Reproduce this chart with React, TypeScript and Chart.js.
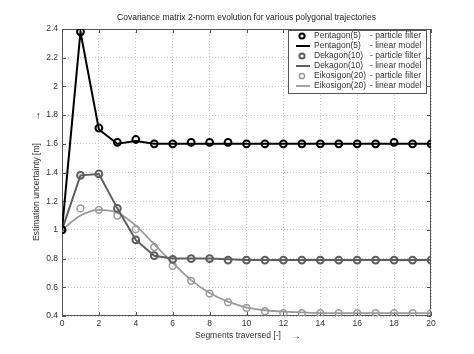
import React, { useEffect, useRef } from "react";
import { Chart, registerables } from "chart.js";

Chart.register(...registerables);

const segments = [0, 1, 2, 3, 4, 5, 6, 7, 8, 9, 10, 11, 12, 13, 14, 15, 16, 17, 18, 19, 20];

const pentagonPF = [1.0, 2.38, 1.71, 1.61, 1.63, 1.6, 1.6, 1.61, 1.61, 1.61, 1.6, 1.6, 1.6, 1.6, 1.6, 1.6, 1.6, 1.6, 1.61, 1.6, 1.6];
const pentagonLM = [1.0, 2.38, 1.7, 1.6, 1.62, 1.6, 1.6, 1.6, 1.6, 1.6, 1.6, 1.6, 1.6, 1.6, 1.6, 1.6, 1.6, 1.6, 1.6, 1.6, 1.6];
const dekagonPF = [1.0, 1.38, 1.39, 1.15, 0.93, 0.82, 0.795, 0.8, 0.8, 0.79, 0.79, 0.79, 0.79, 0.79, 0.79, 0.79, 0.79, 0.79, 0.79, 0.79, 0.79];
const dekagonLM = [1.0, 1.38, 1.39, 1.15, 0.93, 0.82, 0.8, 0.8, 0.8, 0.795, 0.79, 0.79, 0.79, 0.79, 0.79, 0.79, 0.79, 0.79, 0.79, 0.79, 0.79];
const eikosigonPF = [1.0, 1.15, 1.14, 1.1, 1.005, 0.88, 0.75, 0.645, 0.556, 0.496, 0.457, 0.433, 0.42, 0.42, 0.42, 0.42, 0.42, 0.42, 0.42, 0.42, 0.42];
const eikosigonLM = [1.0, 1.1, 1.14, 1.12, 1.03, 0.9, 0.77, 0.65, 0.56, 0.5, 0.46, 0.44, 0.43, 0.425, 0.42, 0.42, 0.42, 0.42, 0.42, 0.42, 0.42];

const xTicks = [0, 2, 4, 6, 8, 10, 12, 14, 16, 18, 20];
const yTicks = [0.4, 0.6, 0.8, 1.0, 1.2, 1.4, 1.6, 1.8, 2.0, 2.2, 2.4];

const titleText = "Covariance matrix 2-norm evolution for various polygonal trajectories";
const xTitle = "Segments traversed [-]";
const yTitle = "Estimation uncertainty [m]";

const legendNames = ["Pentagon(5)", "Pentagon(5)", "Dekagon(10)", "Dekagon(10)", "Eikosigon(20)", "Eikosigon(20)"];
const legendSuffix = ["- particle filter", "- linear model", "- particle filter", "- linear model", "- particle filter", "- linear model"];

const toPts = (ys: number[]) => segments.map((x, i) => ({ x, y: ys[i] }));

const FONT = "'Liberation Sans', Arial, sans-serif";

export default function App() {
  const ref = useRef<HTMLCanvasElement | null>(null);
  useEffect(() => {
    document.body.style.margin = "0";
    const canvas = ref.current!;
    const colors = ["#000000", "#000000", "#5e5e5e", "#5e5e5e", "#9a9a9a", "#9a9a9a"];
    const pf = (label: string, data: number[], color: string, bw: number) => ({
      label,
      data: toPts(data),
      showLine: false,
      borderColor: color,
      backgroundColor: "rgba(0,0,0,0)",
      pointRadius: 3.4,
      pointBorderWidth: bw,
      pointStyle: "circle",
    });
    const lm = (label: string, data: number[], color: string, w: number, tension = 0) => ({
      label,
      data: toPts(data),
      showLine: true,
      borderColor: color,
      borderWidth: w,
      pointRadius: 0,
      tension,
      cubicInterpolationMode: tension > 0 ? "monotone" : "default",
      fill: false,
    });

    const overlay = {
      id: "overlay",
      beforeDatasetsDraw(chart: any) {
        const { ctx, chartArea: a } = chart;
        ctx.save();
        ctx.strokeStyle = "#555";
        ctx.lineWidth = 1;
        ctx.strokeRect(a.left + 0.5, a.top + 0.5, a.right - a.left - 1, a.bottom - a.top - 1);
        const xs = chart.scales.x;
        const ys = chart.scales.y;
        ctx.beginPath();
        xTicks.forEach((t) => {
          const px = Math.round(xs.getPixelForValue(t)) + 0.5;
          ctx.moveTo(px, a.bottom);
          ctx.lineTo(px, a.bottom - 4);
          ctx.moveTo(px, a.top);
          ctx.lineTo(px, a.top + 4);
        });
        yTicks.forEach((t) => {
          const py = Math.round(ys.getPixelForValue(t)) + 0.5;
          ctx.moveTo(a.left, py);
          ctx.lineTo(a.left + 4, py);
          ctx.moveTo(a.right, py);
          ctx.lineTo(a.right - 4, py);
        });
        ctx.stroke();
        ctx.restore();
      },
      afterDraw(chart: any) {
        const { ctx, chartArea: a } = chart;
        ctx.save();
        ctx.fillStyle = "#222";
        ctx.font = `8.5px ${FONT}`;
        ctx.textAlign = "center";
        ctx.textBaseline = "middle";
        ctx.fillText(titleText, (a.left + a.right) / 2, 18);
        // x title
        ctx.fillStyle = "#333";
        ctx.font = `8.5px ${FONT}`;
        ctx.textAlign = "left";
        ctx.fillText(xTitle, 195, 336);
        ctx.font = `10px ${FONT}`;
        ctx.fillText("\u2192", 291, 336);
        // y title
        ctx.font = `8.5px ${FONT}`;
        ctx.save();
        ctx.translate(37, 192);
        ctx.rotate(-Math.PI / 2);
        ctx.textAlign = "center";
        ctx.fillText(yTitle, 0, 0);
        ctx.restore();
        ctx.save();
        ctx.font = `10px ${FONT}`;
        ctx.translate(37, 116);
        ctx.rotate(-Math.PI / 2);
        ctx.textAlign = "center";
        ctx.fillText("\u2192", 0, 0);
        ctx.restore();
        // legend
        const bx = 288, by = 30, bw = 138, bh = 63;
        ctx.fillStyle = "#fff";
        ctx.fillRect(bx, by, bw, bh);
        ctx.strokeStyle = "#555";
        ctx.lineWidth = 1;
        ctx.strokeRect(bx + 0.5, by + 0.5, bw, bh);
        const ds = chart.data.datasets;
        for (let i = 0; i < 6; i++) {
          const y = 36 + i * 10;
          const d = ds[i];
          if (d.showLine) {
            ctx.strokeStyle = d.borderColor;
            ctx.lineWidth = d.borderWidth;
            ctx.beginPath();
            ctx.moveTo(296, y);
            ctx.lineTo(310, y);
            ctx.stroke();
          } else {
            ctx.strokeStyle = d.borderColor;
            ctx.lineWidth = d.pointBorderWidth;
            ctx.beginPath();
            ctx.arc(302, y, 2.6, 0, Math.PI * 2);
            ctx.stroke();
          }
          ctx.fillStyle = "#333";
          ctx.font = `8.5px ${FONT}`;
          ctx.textAlign = "left";
          ctx.textBaseline = "middle";
          ctx.fillText(legendNames[i], 314, y);
          ctx.fillText(legendSuffix[i], 370, y);
        }
        ctx.restore();
      },
    };

    const chart = new Chart(canvas, {
      type: "scatter",
      data: {
        datasets: [
          pf("Pentagon(5) - particle filter", pentagonPF, colors[0], 2),
          lm("Pentagon(5) - linear model", pentagonLM, colors[1], 2),
          pf("Dekagon(10) - particle filter", dekagonPF, colors[2], 2),
          lm("Dekagon(10) - linear model", dekagonLM, colors[3], 2),
          pf("Eikosigon(20) - particle filter", eikosigonPF, colors[4], 1.5),
          lm("Eikosigon(20) - linear model", eikosigonLM, colors[5], 1.8, 0.4),
        ] as any,
      },
      options: {
        animation: false,
        responsive: false,
        maintainAspectRatio: false,
        layout: { padding: { left: 0, top: 29, right: 43, bottom: 0 } },
        plugins: { legend: { display: false }, title: { display: false }, tooltip: { enabled: false } },
        scales: {
          x: {
            type: "linear",
            min: 0,
            max: 20,
            afterFit: (s: any) => { s.height = 38; },
            afterBuildTicks: (s: any) => { s.ticks = xTicks.map((v) => ({ value: v })); },
            ticks: { color: "#333", font: { size: 8.5, family: FONT }, padding: 3, maxRotation: 0, autoSkip: false },
            grid: { color: "#c8c8c8", lineWidth: 1, drawTicks: false },
            border: { display: false, dash: [1, 2] },
          },
          y: {
            type: "linear",
            min: 0.4,
            max: 2.4,
            afterFit: (s: any) => { s.width = 62; },
            afterBuildTicks: (s: any) => { s.ticks = yTicks.map((v) => ({ value: v })); },
            ticks: {
              color: "#333",
              font: { size: 8.5, family: FONT },
              padding: 4,
              autoSkip: false,
              callback: (v: any) => String(Number(Number(v).toFixed(1))),
            },
            grid: { color: "#c8c8c8", lineWidth: 1, drawTicks: false },
            border: { display: false, dash: [1, 2] },
          },
        },
      },
      plugins: [overlay],
    });
    return () => chart.destroy();
  }, []);
  return <canvas ref={ref} width={474} height={354} style={{ display: "block" }} />;
}
